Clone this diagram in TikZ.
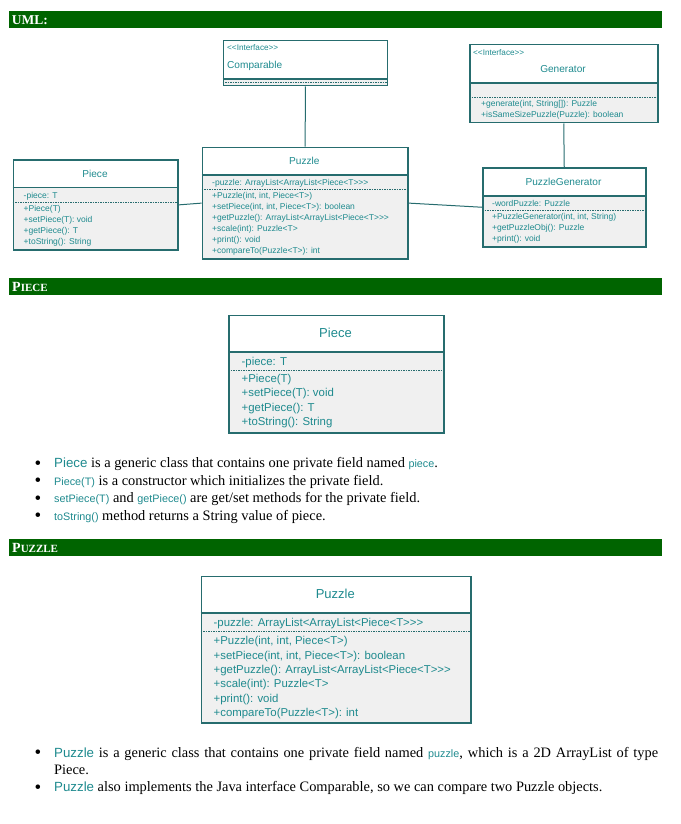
\documentclass[tikz,border=0pt]{standalone}
\usepackage{fontspec}
\setmainfont{Liberation Serif}
\newfontfamily\umlfont{Liberation Sans}
\definecolor{bargreen}{RGB}{0,100,0}
\definecolor{boxborder}{RGB}{38,108,110}
\definecolor{umltext}{RGB}{30,138,142}
\definecolor{boxgray}{RGB}{240,240,240}
\newcommand\tealS[1]{{\umlfont\fontsize{10.8}{12}\selectfont\color{umltext}#1}}
\newcommand\tealL[1]{{\umlfont\fontsize{13.3}{15}\selectfont\color{umltext}#1}}
\begin{document}
\begin{tikzpicture}[x=1pt,y=-1pt,
  bar/.style={fill=bargreen, inner sep=0pt, anchor=north west, minimum width=653.5pt, minimum height=16.7pt},
  bartext/.style={text=white, anchor=base west, inner sep=0pt, font=\bfseries},
  classbox/.style={draw=boxborder, line width=1.5pt, inner sep=0pt, anchor=north west},
  grayband/.style={fill=boxgray},
  sepline/.style={draw=boxborder, line width=1.3pt},
  dashsep/.style={draw=boxborder, line width=0.8pt, dash pattern=on 1.5pt off 1pt},
  umlline/.style={anchor=west, inner sep=0pt, text height=5.6pt, text depth=0pt, text=umltext, font=\umlfont\fontsize{8.5}{10}\selectfont},
  umlbig/.style={anchor=west, inner sep=0pt, text height=7.5pt, text depth=0pt, text=umltext, font=\umlfont\fontsize{11.4}{13}\selectfont},
  umltitle/.style={anchor=center, inner sep=0pt, text height=6.7pt, text depth=0pt, text=umltext, font=\umlfont\fontsize{10.1}{12}\selectfont},
  bigtitle/.style={anchor=center, inner sep=0pt, text height=8.6pt, text depth=0pt, text=umltext, font=\umlfont\fontsize{13}{15}\selectfont},
  stereo/.style={anchor=west, inner sep=0pt, text height=5.3pt, text depth=0pt, text=umltext, font=\umlfont\fontsize{8.2}{9}\selectfont},
  bullettext/.style={anchor=west, inner sep=0pt, text height=9.5pt, text depth=0pt, font=\fontsize{14.4}{17}\selectfont},
  bulletmark/.style={anchor=center, inner sep=0pt, text height=12.5pt, text depth=0pt, font=\fontsize{19}{19}\selectfont},
  conn/.style={draw=boxborder, line width=1pt}
]
\useasboundingbox (0,0) rectangle (680,824);

% ---------- section bars ----------
\node[bar] (umlbar) at (8.5,11) {};
\node[bartext] (umlbartext) at (11.7,25) {\fontsize{13.5}{14}\selectfont UML:};
\node[bar] (piecebar) at (8.5,277.7) {};
\node[bartext] (piecebartext) at (12,291.7) {\fontsize{14}{14}\selectfont P\fontsize{11}{11}\selectfont IECE};
\node[bar] (puzzlebar) at (8.5,539) {};
\node[bartext] (puzzlebartext) at (12,552.7) {\fontsize{14}{14}\selectfont P\fontsize{11}{11}\selectfont UZZLE};

% ---------- UML: Comparable ----------
\fill[grayband] (222.7,79) rectangle (386.7,85);
\node[classbox, minimum width=164pt, minimum height=45pt] (comparable) at (222.7,40) {};
\draw[sepline] (222.7,79) -- (386.7,79);
\draw[dashsep] (222.7,82) -- (386.7,82);
\node[stereo] (compst) at (227,48) {<{}<Interface>{}>};
\node[umlline, font=\umlfont\fontsize{10.1}{12}\selectfont, text height=6.7pt] (compname) at (227,65) {Comparable};

% ---------- UML: Generator ----------
\fill[grayband] (469,83) rectangle (657,122);
\node[classbox, minimum width=188pt, minimum height=78pt] (generator) at (469,44) {};
\draw[sepline] (469,83) -- (657,83);
\draw[dashsep] (469,97) -- (657,97);
\node[stereo] (genst) at (473,53) {<{}<Interface>{}>};
\node[umltitle] (genname) at (563,69) {Generator};
\node[umlline] (gen1) at (481,104) {+generate(int, String[]): Puzzle};
\node[umlline] (gen2) at (481,115) {+isSameSizePuzzle(Puzzle): boolean};

% ---------- UML: Piece ----------
\fill[grayband] (12.7,187.7) rectangle (177,249);
\node[classbox, minimum width=164.3pt, minimum height=89.7pt] (piece) at (12.7,159.3) {};
\draw[sepline] (12.7,187.7) -- (177,187.7);
\draw[dashsep] (12.7,202) -- (177,202);
\node[umltitle] (piecename) at (95,174) {Piece};
\node[umlline] (p1) at (23.5,196) {-piece: T};
\node[umlline] (p2) at (23.5,209) {+Piece(T)};
\node[umlline] (p3) at (23.5,220) {+setPiece(T): void};
\node[umlline] (p4) at (23.5,231) {+getPiece(): T};
\node[umlline] (p5) at (23.5,242) {+toString(): String};

% ---------- UML: Puzzle ----------
\fill[grayband] (201.7,175) rectangle (407,258);
\node[classbox, minimum width=205.3pt, minimum height=111.3pt] (puzzle) at (201.7,146.7) {};
\draw[sepline] (201.7,175) -- (407,175);
\draw[dashsep] (201.7,189) -- (407,189);
\node[umltitle] (puzzlename) at (304.4,161) {Puzzle};
\node[umlline] (z1) at (212,183) {-puzzle: ArrayList<ArrayList<Piece<T>{}>{}>};
\node[umlline] (z2) at (212,196) {+Puzzle(int, int, Piece<T>)};
\node[umlline] (z3) at (212,207) {+setPiece(int, int, Piece<T>): boolean};
\node[umlline] (z4) at (212,218) {+getPuzzle(): ArrayList<ArrayList<Piece<T>{}>{}>};
\node[umlline] (z5) at (212,229) {+scale(int): Puzzle<T>};
\node[umlline] (z6) at (212,240) {+print(): void};
\node[umlline] (z7) at (212,251) {+compareTo(Puzzle<T>): int};

% ---------- UML: PuzzleGenerator ----------
\fill[grayband] (482,196) rectangle (645,246);
\node[classbox, minimum width=163pt, minimum height=79pt] (puzzlegen) at (482,167) {};
\draw[sepline] (482,196) -- (645,196);
\draw[dashsep] (482,210) -- (645,210);
\node[umltitle] (pgname) at (563.5,182) {PuzzleGenerator};
\node[umlline] (g1) at (492,204) {-wordPuzzle: Puzzle};
\node[umlline] (g2) at (492,217) {+PuzzleGenerator(int, int, String)};
\node[umlline] (g3) at (492,228) {+getPuzzleObj(): Puzzle};
\node[umlline] (g4) at (492,239) {+print(): void};

% ---------- connectors ----------
\draw[conn] (comparable.south) -- (puzzle.north);
\draw[conn] (generator.south) -- (puzzlegen.north);
\draw[conn] (piece.east) -- (puzzle.west);
\draw[conn] (puzzle.east) -- (puzzlegen.west);

% ---------- PIECE section: class box ----------
\fill[grayband] (228,352) rectangle (443,432);
\node[classbox, minimum width=215pt, minimum height=117.5pt] (bigpiece) at (228,314.5) {};
\draw[sepline] (228,352) -- (443,352);
\draw[dashsep] (228,370) -- (443,370);
\node[bigtitle] (bigpiecename) at (335.5,333) {Piece};
\node[umlbig] (bp1) at (241.5,362) {-piece: T};
\node[umlbig] (bp2) at (241.5,379) {+Piece(T)};
\node[umlbig] (bp3) at (241.5,393) {+setPiece(T): void};
\node[umlbig] (bp4) at (241.5,407.3) {+getPiece(): T};
\node[umlbig] (bp5) at (241.5,421.7) {+toString(): String};

% ---------- PIECE section: bullets ----------
\node[bulletmark] (pb1) at (38,463) {\textbullet};
\node[bullettext] (pl1) at (54,463) {\tealL{Piece} is a generic class that contains one private field named \tealS{piece}.};
\node[bulletmark] (pb2) at (38,480.5) {\textbullet};
\node[bullettext] (pl2) at (54,480.5) {\tealS{Piece(T)} is a constructor which initializes the private field.};
\node[bulletmark] (pb3) at (38,498) {\textbullet};
\node[bullettext] (pl3) at (54,498) {\tealS{setPiece(T)} and \tealS{getPiece()} are get/set methods for the private field.};
\node[bulletmark] (pb4) at (38,515.5) {\textbullet};
\node[bullettext] (pl4) at (54,515.5) {\tealS{toString()} method returns a String value of piece.};

% ---------- PUZZLE section: class box ----------
\fill[grayband] (200.7,613) rectangle (470,722);
\node[classbox, minimum width=269.3pt, minimum height=146.3pt] (bigpuzzle) at (200.7,575.7) {};
\draw[sepline] (200.7,613) -- (470,613);
\draw[dashsep] (200.7,631) -- (470,631);
\node[bigtitle] (bigpuzzlename) at (335.3,594) {Puzzle};
\node[umlbig] (bz1) at (213.5,623) {-puzzle: ArrayList<ArrayList<Piece<T>{}>{}>};
\node[umlbig] (bz2) at (213.5,641) {+Puzzle(int, int, Piece<T>)};
\node[umlbig] (bz3) at (213.5,655.3) {+setPiece(int, int, Piece<T>): boolean};
\node[umlbig] (bz4) at (213.5,669.6) {+getPuzzle(): ArrayList<ArrayList<Piece<T>{}>{}>};
\node[umlbig] (bz5) at (213.5,684) {+scale(int): Puzzle<T>};
\node[umlbig] (bz6) at (213.5,698.3) {+print(): void};
\node[umlbig] (bz7) at (213.5,712.6) {+compareTo(Puzzle<T>): int};

% ---------- PUZZLE section: bullets ----------
\node[bulletmark] (zb1) at (38,752.7) {\textbullet};
\node[bullettext] (zl1) at (54,752.7) {\hbox to 604pt{\tealL{Puzzle} is a generic class that contains one private field named \tealS{puzzle}, which is a 2D ArrayList of type}};
\node[bullettext] (zl1b) at (54,769.5) {Piece.};
\node[bulletmark] (zb2) at (38,787) {\textbullet};
\node[bullettext] (zl2) at (54,787) {\tealL{Puzzle} also implements the Java interface Comparable, so we can compare two Puzzle objects.};
\end{tikzpicture}
\end{document}
